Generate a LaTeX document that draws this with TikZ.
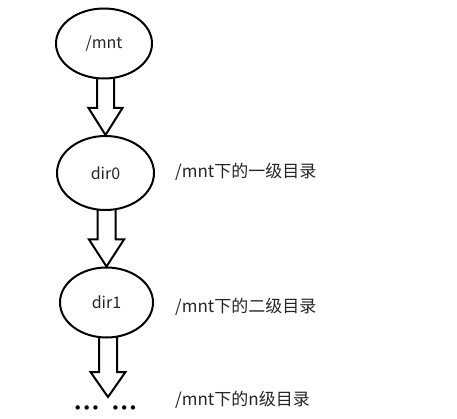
\documentclass[tikz,border=0pt]{standalone}
\usepackage{fontspec}
\setmainfont{Noto Sans CJK SC}
\newfontfamily\dotfont{DejaVu Sans}
\usetikzlibrary{shapes.geometric,calc,backgrounds}
\tikzset{
  dirnode/.style={ellipse, draw=black, line width=2pt, fill=white, inner sep=0pt,
    font=\fontsize{16}{19}\selectfont, text=black!85},
  labelnode/.style={anchor=west, inner sep=0pt, font=\fontsize{17}{20}\selectfont, text=black!85},
  blockarrow/.style={draw=black, line width=2pt, fill=white, line join=miter},
}
\begin{document}
\begin{tikzpicture}[x=1pt,y=-1pt]
\useasboundingbox (0,0) rectangle (457,419);
\node[dirnode, minimum width=96, minimum height=70] (mnt) at (104,43.5) {/mnt};
\node[dirnode, minimum width=97, minimum height=74] (d0) at (105.5,173) {dir0};
\node[dirnode, minimum width=93, minimum height=70] (d1) at (106.5,302.5) {dir1};
\coordinate (end) at (108,397);
\node[inner sep=0pt, font=\dotfont\fontsize{15}{18}\selectfont] (dots) at (105.5,410) {•••\hspace{11pt}•••};
\node[labelnode] (l0) at (175,172) {/mnt下的一级目录};
\node[labelnode] (l1) at (175,307) {/mnt下的二级目录};
\node[labelnode] (ln) at (175,400) {/mnt下的n级目录};
\begin{scope}[on background layer]
  \fill[white] (0,0) rectangle (457,419);
  \coordinate (s1) at (mnt.south -| d0.north);
  \draw[blockarrow] ($(s1)+(-8.5,-4)$) -- ($(d0.north)+(-8.5,-27)$) -- ($(d0.north)+(-17,-27)$) -- (d0.north) -- ($(d0.north)+(17,-27)$) -- ($(d0.north)+(8.5,-27)$) -- ($(s1)+(8.5,-4)$);
  \coordinate (s2) at (d0.south -| d1.north);
  \draw[blockarrow] ($(s2)+(-9,-4)$) -- ($(d1.north)+(-9,-27)$) -- ($(d1.north)+(-17.5,-27)$) -- (d1.north) -- ($(d1.north)+(17.5,-27)$) -- ($(d1.north)+(9,-27)$) -- ($(s2)+(9,-4)$);
  \coordinate (s3) at (d1.south -| end);
  \draw[blockarrow] ($(s3)+(-9,-4)$) -- ($(end)+(-9,-25)$) -- ($(end)+(-17.5,-25)$) -- (end) -- ($(end)+(17.5,-25)$) -- ($(end)+(9,-25)$) -- ($(s3)+(9,-4)$);
\end{scope}
\end{tikzpicture}
\end{document}
